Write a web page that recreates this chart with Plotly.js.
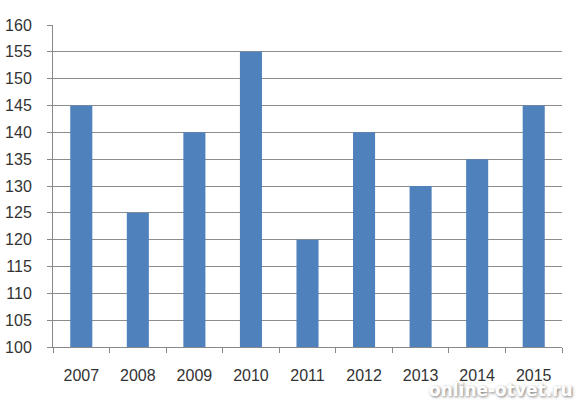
<!DOCTYPE html>
<html>
<head>
<meta charset="utf-8">
<script src="https://cdn.plot.ly/plotly-3.0.1.min.js"></script>
<style>
  html, body { margin: 0; padding: 0; background: #ffffff; }
  #chart { width: 578px; height: 400px; }
</style>
</head>
<body>
<div id="chart"></div>
<script>
var YEARS = ["2007", "2008", "2009", "2010", "2011", "2012", "2013", "2014", "2015"];
var VALUES = [145, 125, 140, 155, 120, 140, 130, 135, 145];
var Y_TICKS = [100, 105, 110, 115, 120, 125, 130, 135, 140, 145, 150, 155, 160];

var trace1 = {
    x: YEARS,
    y: VALUES,
    type: 'bar',
    marker: { color: '#4f81bd' },
    hoverinfo: 'x+y'
};

var layout = {
    width: 578,
    height: 400,
    plot_bgcolor: '#ffffff',
    paper_bgcolor: '#ffffff',
    showlegend: false,
    bargap: 0.61,
    font: { family: 'Liberation Sans, Arial, sans-serif', size: 16, color: '#333333' },
    margin: { l: 53, r: 16, t: 25, b: 53 },
    xaxis: {
        type: 'category',
        tickson: 'boundaries',
        ticks: 'outside',
        ticklen: 5,
        tickcolor: '#888888',
        showline: true,
        linecolor: '#888888',
        linewidth: 1,
        showgrid: false,
        tickfont: { size: 16, color: '#333333' },
        ticklabelstandoff: 14
    },
    yaxis: {
        range: [100, 160],
        tickvals: Y_TICKS,
        ticks: 'outside',
        ticklen: 5,
        tickcolor: '#888888',
        showline: true,
        linecolor: '#888888',
        linewidth: 1,
        showgrid: true,
        gridcolor: '#8c8c8c',
        gridwidth: 1,
        zeroline: false,
        tickfont: { size: 16, color: '#333333' },
        ticklabelstandoff: 12
    },
    annotations: [{
        text: '<b>online-otvet.ru</b>',
        xref: 'paper', yref: 'paper',
        x: 1.025, y: -0.135,
        xanchor: 'right', yanchor: 'middle',
        showarrow: false,
        font: { family: 'DejaVu Sans, sans-serif', size: 17, color: '#ffffff', shadow: '1px 1px 3px #777777' }
    }]
};

Plotly.newPlot('chart', [trace1], layout, { displayModeBar: false, staticPlot: true });
</script>
</body>
</html>
